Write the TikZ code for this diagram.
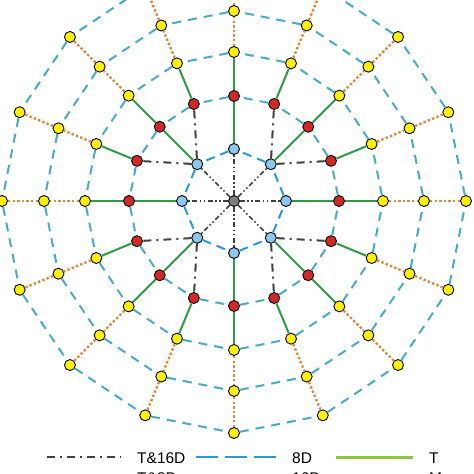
\documentclass[tikz,border=0pt]{standalone}
\usepackage{fontspec}
\setmainfont{Liberation Sans}
\definecolor{nodeyellow}{RGB}{255,240,0}
\definecolor{nodered}{RGB}{210,40,38}
\definecolor{nodeblue}{RGB}{140,200,235}
\definecolor{nodegray}{RGB}{125,125,125}
\definecolor{tgreen}{RGB}{46,155,70}
\definecolor{tgreenlight}{RGB}{141,198,63}
\definecolor{morange}{RGB}{210,140,70}
\definecolor{dteal}{RGB}{75,170,195}
\definecolor{dblue}{RGB}{40,155,215}
\definecolor{darkline}{RGB}{64,64,64}
\usetikzlibrary{calc}

\begin{document}
\begin{tikzpicture}[x=1pt,y=1pt,
    pt/.style={circle,draw=black,line width=0.9pt,minimum size=11pt,inner sep=0pt},
    yel/.style={pt,fill=nodeyellow},
    redn/.style={pt,fill=nodered},
    bluen/.style={pt,fill=nodeblue},
    grayn/.style={pt,fill=nodegray},
    tline/.style={draw=tgreen,line width=2pt},
    mline/.style={draw=morange,line width=2.4pt,dash pattern=on 2.4pt off 2.2pt},
    dsixteen/.style={draw=dteal,line width=2pt,dash pattern=on 9pt off 7pt},
    deight/.style={draw=dblue,line width=2pt,dash pattern=on 9pt off 6pt},
    tsixteen/.style={draw=darkline,line width=2pt,dash pattern=on 8pt off 5pt on 2pt off 5pt},
    teight/.style={draw=darkline,line width=1.6pt,dash pattern=on 5pt off 2.5pt on 1.5pt off 2.5pt on 1.5pt off 2.5pt},
    lbl/.style={anchor=base west,inner sep=0pt,font=\fontsize{15.5}{18}\selectfont}]
\useasboundingbox (-234,-273) rectangle (240,201);
\clip (-234,-273) rectangle (240,201);

% nodes
\node[grayn] (c) at (0,0) {};
\foreach \k in {0,...,7}
    \node[bluen] (b\k) at (\k*45:52) {};
\foreach \i in {0,...,15} {
    \node[redn] (r\i) at (\i*22.5:105) {};
    \node[yel] (ya\i) at (\i*22.5:149) {};
    \node[yel] (yb\i) at (\i*22.5:190) {};
    \node[yel] (yc\i) at (\i*22.5:232) {};
}

% inner part
\foreach \k in {0,...,7} {
    \pgfmathtruncatemacro\n{mod(\k+1,8)}
    \pgfmathtruncatemacro\e{2*\k}
    \draw[teight](c)--(b\k);
    \draw[deight](b\k)--(b\n);
    \draw[tline](b\k)--(r\e);
}
\foreach \i in {1,3,...,15} {
    \pgfmathtruncatemacro\m{2*floor(\i/4)+1}
    \draw[tsixteen](b\m)--(r\i);
}

% rings and spokes
\foreach \i in {0,...,15} {
    \pgfmathtruncatemacro\j{mod(\i+1,16)}
    \draw[dsixteen](r\i)--(r\j);
    \draw[dsixteen](ya\i)--(ya\j);
    \draw[dsixteen](yb\i)--(yb\j);
    \draw[dsixteen](yc\i)--(yc\j);
    \draw[tline](r\i)--(ya\i);
    \draw[mline](ya\i)--(yb\i)--(yc\i);
}

% legend
\coordinate (la1) at (-187,-256);
\coordinate (la2) at (-113,-256);
\coordinate (lb1) at (-38,-256);
\coordinate (lb2) at (43,-256);
\coordinate (lc1) at (102,-256);
\coordinate (lc2) at (179,-256);
\draw[tsixteen](la1)--(la2);
\draw[deight,dash pattern=on 22pt off 7pt](lb1)--(lb2);
\draw[tline,draw=tgreenlight,line width=3pt](lc1)--(lc2);
\node[lbl] (lt1) at (-97,-262) {T\&16D};
\node[lbl] (lt2) at (58,-262) {8D};
\node[lbl] (lt3) at (195,-262) {T};
\node[lbl] (lt4) at (-97,-282) {T\&8D};
\node[lbl] (lt5) at (58,-282) {16D};
\node[lbl] (lt6) at (195,-282) {M};
\end{tikzpicture}
\end{document}
